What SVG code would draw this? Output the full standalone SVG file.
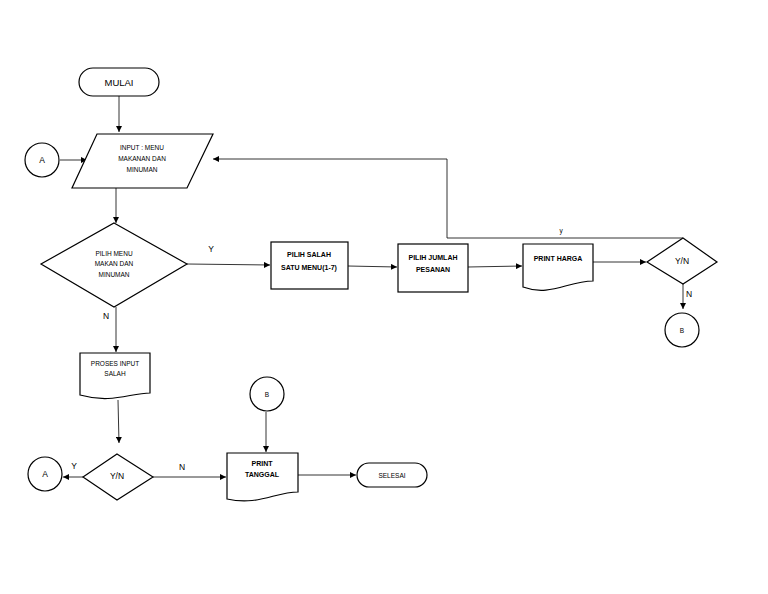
<svg xmlns="http://www.w3.org/2000/svg" width="768" height="594" viewBox="0 0 768 594">
<defs>
<marker id="ah" viewBox="0 0 10 10" refX="10" refY="5" markerWidth="6" markerHeight="6" orient="auto" markerUnits="userSpaceOnUse">
<path d="M0,0 L10,5 L0,10 z" fill="#000"/>
</marker>
</defs>
<style>
.s{fill:#fff;stroke:#000;stroke-width:1.2}
.c{fill:none;stroke:#000;stroke-width:0.8}
.a{marker-end:url(#ah)}
text{font-family:"Liberation Sans",Arial,sans-serif;fill:#000;text-anchor:middle;dominant-baseline:middle}
.t{font-size:6.5px}
.b{font-size:7px;font-weight:bold}
.m{font-size:9.5px}
.l{font-size:8.5px}
</style>
<rect width="768" height="594" fill="#fff"/>
<g id="connectors">
<line class="c a" x1="119" y1="96" x2="119" y2="132"/>
<line class="c a" x1="60" y1="160" x2="87" y2="160"/>
<polyline class="c" points="683,238 447,238 447,159"/>
<line class="c a" x1="447" y1="159" x2="213" y2="159"/>
<line class="c a" x1="116" y1="188" x2="116" y2="223"/>
<line class="c a" x1="187" y1="264" x2="270" y2="265"/>
<line class="c a" x1="348" y1="266" x2="397" y2="267"/>
<line class="c a" x1="468" y1="267" x2="522" y2="266"/>
<line class="c a" x1="593" y1="262" x2="646" y2="262"/>
<line class="c a" x1="683" y1="284" x2="683" y2="309"/>
<line class="c a" x1="116" y1="307" x2="116" y2="352"/>
<line class="c a" x1="118" y1="400" x2="119" y2="443"/>
<line class="c a" x1="83" y1="477" x2="63" y2="477"/>
<line class="c a" x1="153" y1="477" x2="226" y2="477"/>
<line class="c a" x1="266" y1="412" x2="266" y2="452"/>
<line class="c a" x1="298" y1="475" x2="356" y2="475"/>
<text class="l" x="211" y="250">Y</text>
<text class="t" x="561" y="231">y</text>
<text class="l" x="106" y="317">N</text>
<text class="l" x="689" y="295">N</text>
<text class="l" x="74" y="467">Y</text>
<text class="l" x="182" y="468">N</text>
</g>
<g id="mulai">
<rect class="s" x="79" y="68" width="80" height="28" rx="14"/>
<text class="m" x="119" y="83">MULAI</text>
</g>
<g id="input">
<polygon class="s" points="97,134 213,134 187,188 72,188"/>
<text class="t" x="142" y="148">INPUT : MENU</text>
<text class="t" x="142" y="159">MAKANAN DAN</text>
<text class="t" x="142" y="170">MINUMAN</text>
</g>
<g id="connA1">
<circle class="s" cx="42" cy="160" r="17"/>
<text class="l" x="42" y="161">A</text>
</g>
<g id="pilihMenu">
<polygon class="s" points="114,223 187,264 114,307 41,264"/>
<text class="t" x="114" y="254">PILIH MENU</text>
<text class="t" x="114" y="264">MAKAN DAN</text>
<text class="t" x="114" y="275">MINUMAN</text>
</g>
<g id="pilihSalah">
<rect class="s" x="271" y="242" width="77" height="47"/>
<text class="b" x="309" y="255">PILIH SALAH</text>
<text class="b" x="309" y="268">SATU MENU(1-7)</text>
</g>
<g id="pilihJumlah">
<rect class="s" x="398" y="244" width="70" height="48"/>
<text class="b" x="433" y="258">PILIH JUMLAH</text>
<text class="b" x="433" y="270">PESANAN</text>
</g>
<g id="printHarga">
<path class="s" d="M523,244 H593 V281 C568,281 550,297 523,287 Z"/>
<text class="b" x="558" y="259">PRINT HARGA</text>
</g>
<g id="yn1">
<polygon class="s" points="683,238 717,262 683,284 647,262"/>
<text class="l" x="682" y="262">Y/N</text>
</g>
<g id="connB1">
<circle class="s" cx="682" cy="330" r="17"/>
<text class="t" x="682" y="331">B</text>
</g>
<g id="prosesInput">
<path class="s" d="M80,353 H150 V393 C130,393 112,404 80,395 Z"/>
<text class="t" x="115" y="364">PROSES INPUT</text>
<text class="t" x="115" y="374">SALAH</text>
</g>
<g id="yn2">
<polygon class="s" points="117,454 153,477 117,500 83,477"/>
<text class="l" x="117" y="477">Y/N</text>
</g>
<g id="connA2">
<circle class="s" cx="45" cy="474" r="17"/>
<text class="l" x="45" y="475">A</text>
</g>
<g id="connB2">
<circle class="s" cx="267" cy="394" r="17"/>
<text class="t" x="267" y="395">B</text>
</g>
<g id="printTanggal">
<path class="s" d="M227,453 H298 V492 C275,492 258,506 227,499 Z"/>
<text class="b" x="262" y="464">PRINT</text>
<text class="b" x="262" y="475">TANGGAL</text>
</g>
<g id="selesai">
<rect class="s" x="357" y="463" width="70" height="24" rx="12"/>
<text class="t" x="392" y="476">SELESAI</text>
</g>
</svg>
